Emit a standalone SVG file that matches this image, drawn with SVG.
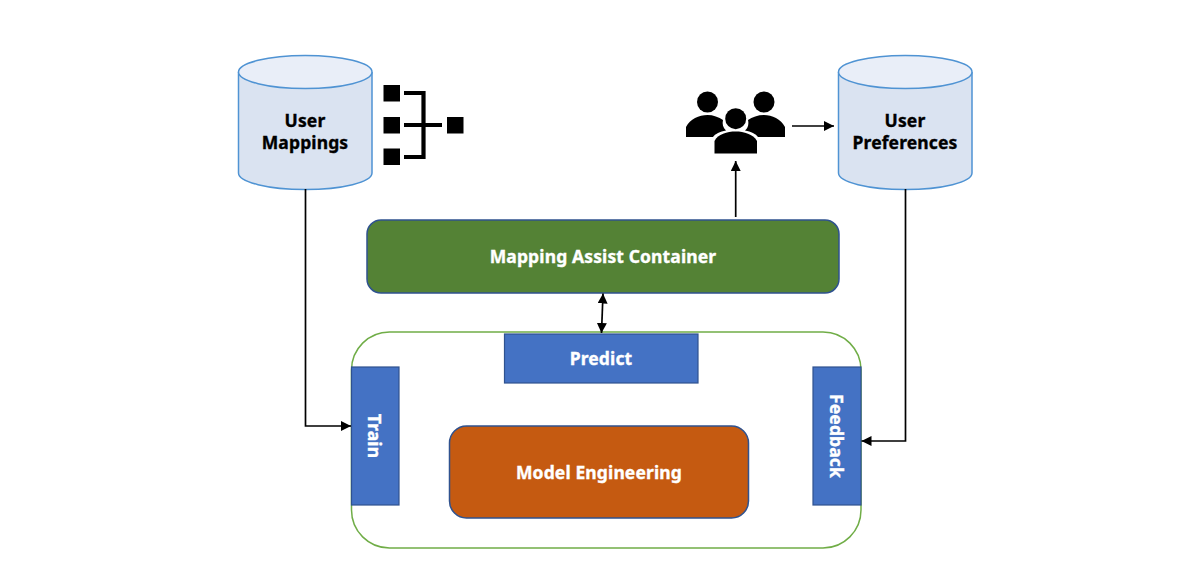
<svg xmlns="http://www.w3.org/2000/svg" width="1200" height="588" viewBox="0 0 1200 588">
<style>
text{font-family:"Noto Sans","Liberation Sans",sans-serif;font-weight:700;font-size:17.5px;text-anchor:middle;letter-spacing:.12px;stroke-width:.35px}
.w{fill:#fff;stroke:#fff}.k{fill:#000;stroke:#000}
.cyl{fill:#dae3f1;stroke:#4f93d3;stroke-width:1.5}
.top{fill:#e9eef8;stroke:#4f93d3;stroke-width:1.5}
.blue{fill:#4472c4;stroke:#2f528f;stroke-width:1.2}
.con{fill:none;stroke:#000;stroke-width:1.7}
.br{fill:none;stroke:#000;stroke-width:4.2}
</style>
<defs>
<marker id="a" markerUnits="userSpaceOnUse" markerWidth="11" markerHeight="11" refX="10" refY="5" orient="auto-start-reverse"><path d="M0 0L10 5L0 10z"/></marker>
</defs>
<rect width="1200" height="588" fill="#fff"/>
<g id="user-mappings">
<path class="cyl" d="M238.500 72V173A66.750 16.500 0 0 0 372 173V72"/>
<ellipse class="top" cx="305.250" cy="72" rx="66.750" ry="16.500"/>
<text class="k" x="305" y="126.500">User</text>
<text class="k" x="305" y="148.500">Mappings</text>
</g>
<g id="hierarchy-icon">
<rect x="383.500" y="85" width="16.500" height="16.500"/>
<rect x="383.500" y="117" width="16.500" height="16.500"/>
<rect x="383.500" y="148.500" width="16.500" height="16.500"/>
<rect x="447" y="117" width="16.500" height="16.500"/>
<path class="br" d="M404 93H423.500V157H404M404 125H442"/>
</g>
<g id="users-icon">
<circle cx="707.500" cy="102" r="10.500"/>
<circle cx="764" cy="102" r="10.500"/>
<path d="M686 137V127C690 119 699 115 707.500 115C713 115 719 117 723 120C722 124 723 128 726 130.500C720 131.500 715 134 713 137Z"/>
<path d="M785 137V127C781 119 772 115 764 115C758 115 752 117 748 120C749 124 748 128 745 130.500C751 131.500 756 134 758 137Z"/>
<circle cx="735.700" cy="118.700" r="10.500"/>
<path d="M714.500 153.500V141C718 134 727 131.500 735.700 131.500C744 131.500 753 134 757 141V153.500Z"/>
</g>
<g id="user-preferences">
<path class="cyl" d="M838.500 72V173A66.750 16.500 0 0 0 972 173V72"/>
<ellipse class="top" cx="905.250" cy="72" rx="66.750" ry="16.500"/>
<text class="k" x="905" y="126.500">User</text>
<text class="k" x="905" y="148.500">Preferences</text>
</g>
<g id="mapping-assist">
<rect x="367" y="220" width="472" height="73" rx="14" fill="#548235" stroke="#2f528f" stroke-width="1.500"/>
<text class="w" x="603" y="263">Mapping Assist Container</text>
</g>
<g id="model-frame">
<rect x="351.500" y="332" width="509.500" height="216" rx="38" fill="#fff" stroke="#70ad47" stroke-width="1.500"/>
</g>
<g id="predict">
<rect class="blue" x="504.500" y="334" width="193.500" height="49"/>
<text class="w" x="601" y="365">Predict</text>
</g>
<g id="train">
<rect class="blue" x="351.500" y="367" width="47.500" height="138"/>
<text class="w" transform="translate(368 436) rotate(90)">Train</text>
</g>
<g id="feedback">
<rect class="blue" x="813" y="367" width="48" height="138"/>
<text class="w" transform="translate(830 436) rotate(90)">Feedback</text>
</g>
<g id="model-engineering">
<rect x="449.500" y="426" width="299" height="92" rx="17" fill="#c55a11" stroke="#2f528f" stroke-width="1.500"/>
<text class="w" x="599" y="479">Model Engineering</text>
</g>
<g id="connectors">
<path class="con" marker-end="url(#a)" d="M305.500 189V426H351"/>
<path class="con" marker-end="url(#a)" d="M905.500 189V441H861.500"/>
<path class="con" marker-end="url(#a)" d="M735.700 217V161"/>
<path class="con" marker-end="url(#a)" d="M792 126H834"/>
<path class="con" marker-start="url(#a)" marker-end="url(#a)" d="M603 293.500L601.500 333"/>
</g>
</svg>
